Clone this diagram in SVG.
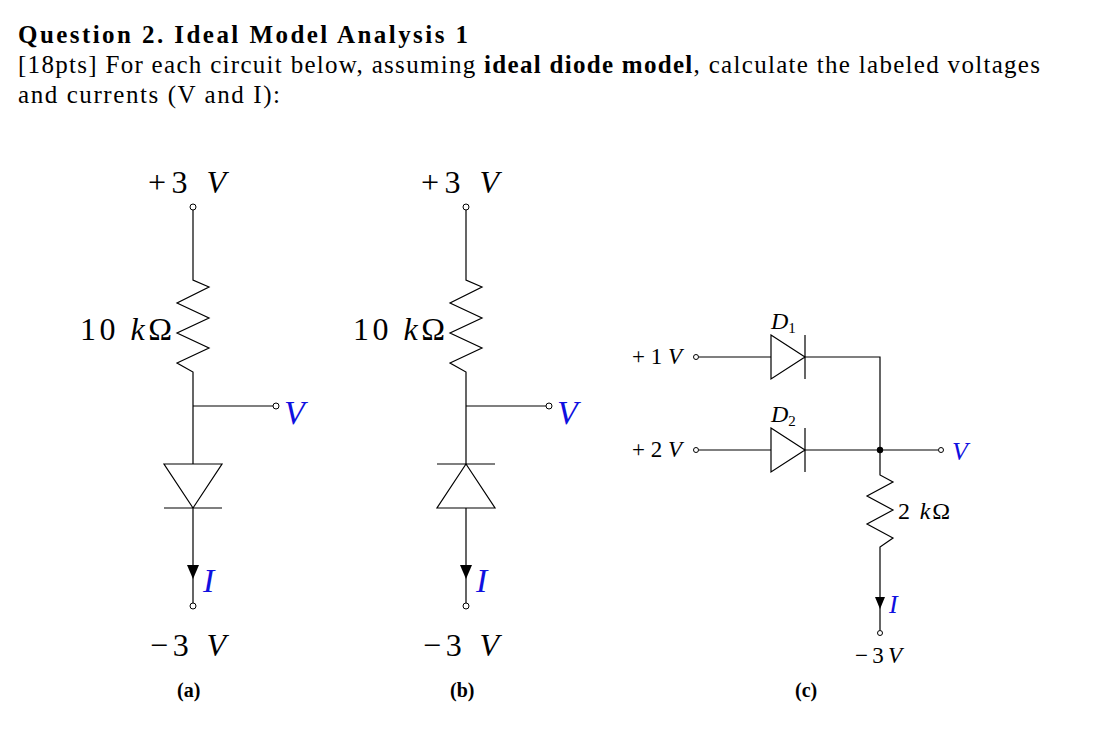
<svg xmlns="http://www.w3.org/2000/svg" width="1110" height="744" viewBox="0 0 1110 744">
<style>
text{font-family:"Liberation Serif","Times New Roman",serif;fill:#000}
.w{stroke:#000;stroke-width:1.2;fill:none}
.t{stroke:#000;stroke-width:1;fill:#fff}
.blue{fill:#1010e0;font-style:italic}
.lbl{font-size:32px}
.bl{font-size:34px}
</style>
<rect width="1110" height="744" fill="#fff"/>
<text x="18" y="43" font-size="25" font-weight="bold" textLength="450" lengthAdjust="spacing">Question 2. Ideal Model Analysis 1</text>
<text x="18" y="73" font-size="25" textLength="1022" lengthAdjust="spacing">[18pts] For each circuit below, assuming <tspan font-weight="bold">ideal diode model</tspan>, calculate the labeled voltages</text>
<text x="18" y="103" font-size="25" textLength="262" lengthAdjust="spacing">and currents (V and I):</text>

<g id="circuit-a">
<text x="148" y="193" class="lbl" textLength="78" lengthAdjust="spacing">+3 <tspan font-style="italic">V</tspan></text>
<circle cx="193" cy="207" r="3" class="t"/>
<path class="w" d="M193 210V280L209 287L177 303L209 318L177 333L209 348L177 363L193 372V464M193 406H273"/>
<circle cx="276" cy="406" r="3" class="t"/>
<text x="284" y="424" class="bl blue">V</text>
<text x="80" y="340" class="lbl" textLength="92" lengthAdjust="spacing">10 <tspan font-style="italic">k</tspan>Ω</text>
<path class="w" d="M164 464H222L193 508Z M164 508H222 M193 508V603"/>
<path d="M187 565H199L193 579Z"/>
<text x="203" y="592" class="bl blue">I</text>
<circle cx="193" cy="606" r="3" class="t"/>
<text x="150" y="656" class="lbl" textLength="76" lengthAdjust="spacing">−3 <tspan font-style="italic">V</tspan></text>
<text x="177" y="697" font-size="20" font-weight="bold">(a)</text>
</g>

<g id="circuit-b">
<text x="421" y="193" class="lbl" textLength="78" lengthAdjust="spacing">+3 <tspan font-style="italic">V</tspan></text>
<circle cx="466" cy="207" r="3" class="t"/>
<path class="w" d="M466 210V280L482 287L450 303L482 318L450 333L482 348L450 363L466 372V464M466 406H546"/>
<circle cx="549" cy="406" r="3" class="t"/>
<text x="557" y="424" class="bl blue">V</text>
<text x="353" y="340" class="lbl" textLength="92" lengthAdjust="spacing">10 <tspan font-style="italic">k</tspan>Ω</text>
<path class="w" d="M437 508H495L466 464Z M437 464H495 M466 508V603"/>
<path d="M460 565H472L466 579Z"/>
<text x="476" y="592" class="bl blue">I</text>
<circle cx="466" cy="606" r="3" class="t"/>
<text x="423" y="656" class="lbl" textLength="76" lengthAdjust="spacing">−3 <tspan font-style="italic">V</tspan></text>
<text x="450" y="697" font-size="20" font-weight="bold">(b)</text>
</g>

<g id="circuit-c">
<text x="632" y="364" font-size="23" textLength="50" lengthAdjust="spacing">+1<tspan font-style="italic">V</tspan></text>
<text x="632" y="457" font-size="23" textLength="50" lengthAdjust="spacing">+2<tspan font-style="italic">V</tspan></text>
<circle cx="696" cy="357" r="2.5" class="t"/>
<circle cx="696" cy="450" r="2.5" class="t"/>
<path class="w" d="M699 357H771M805 357H880V450M699 450H771M805 450H938M880 450V475L893 482L867 496L893 510L867 524L893 538L880 547V630"/>
<path class="w" d="M771 335L805 357L771 379Z M805 335V379 M771 428L805 450L771 472Z M805 428V472"/>
<text x="771" y="329" font-size="24" font-style="italic">D<tspan font-size="15" font-style="normal" dy="4">1</tspan></text>
<text x="771" y="422" font-size="24" font-style="italic">D<tspan font-size="15" font-style="normal" dy="4">2</tspan></text>
<circle cx="880" cy="450" r="3.2"/>
<circle cx="941" cy="450" r="2.5" class="t"/>
<text x="952" y="460" font-size="26" class="blue">V</text>
<text x="898" y="519" font-size="24" textLength="52" lengthAdjust="spacing">2 <tspan font-style="italic">k</tspan>Ω</text>
<path d="M875 597H885L880 609Z"/>
<text x="889" y="613" font-size="26" class="blue">I</text>
<circle cx="880" cy="633" r="2.5" class="t"/>
<text x="855" y="663" font-size="23" textLength="47" lengthAdjust="spacing">−3<tspan font-style="italic">V</tspan></text>
<text x="795" y="697" font-size="20" font-weight="bold">(c)</text>
</g>
</svg>
